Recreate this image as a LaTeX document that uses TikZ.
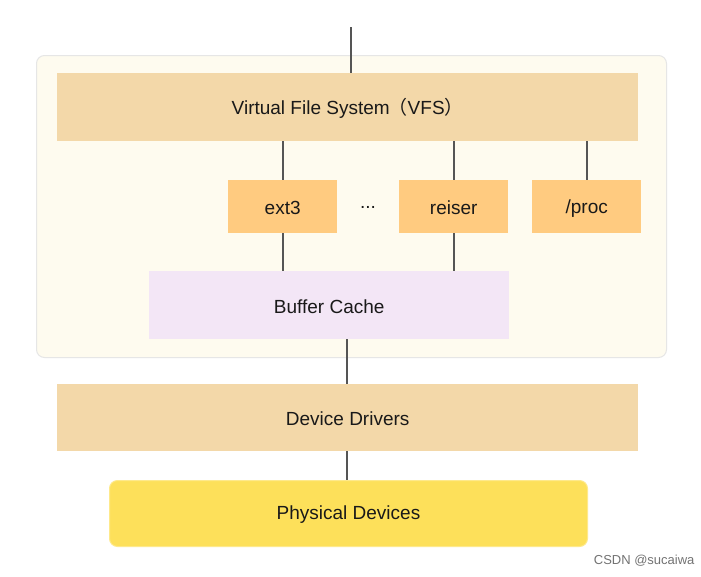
\documentclass[tikz,border=0pt]{standalone}
\usepackage{fontspec}
\setmainfont{Liberation Sans}
\newfontfamily\cjk{Noto Sans CJK SC}
\definecolor{tan}{HTML}{F3D8A9}
\definecolor{orng}{HTML}{FFCB80}
\definecolor{lav}{HTML}{F3E6F6}
\definecolor{yel}{HTML}{FDE05A}
\definecolor{cont}{HTML}{FEFBEF}
\definecolor{contb}{HTML}{E6E6E6}
\definecolor{ln}{HTML}{555555}
\begin{document}
\begin{tikzpicture}[x=1pt,y=-1pt,
  every node/.style={font=\fontsize{19}{22}\selectfont, text=black!90},
  lbl/.style={yshift=-1.5pt},
  blk/.style={draw=none, inner sep=0pt, anchor=north west},
  conn/.style={draw=ln, line width=1.5pt}]
\useasboundingbox (0,0) rectangle (701,576);
\fill[white] (0,0) rectangle (701,576);
% container
\node[blk, fill=cont, draw=contb, line width=1pt, rounded corners=8pt, minimum width=630pt, minimum height=302pt] (cont) at (36,55) {};
\node[blk, fill=tan, minimum width=581pt, minimum height=68pt] (vfs) at (57,73) {};
\node[lbl] at (vfs.center) {Virtual File System{\cjk\kern-1pt （}VFS{\cjk ）}};
\coordinate (top) at (351,27);
\node[blk, fill=orng, minimum width=109pt, minimum height=53pt] (ext) at (228,180) {};
\node[lbl] at (ext.center) {ext3};
\node[lbl] (dots) at (368,206) {...};
\node[blk, fill=orng, minimum width=109pt, minimum height=53pt] (rei) at (399,180) {};
\node[lbl] at (rei.center) {reiser};
\node[blk, fill=orng, minimum width=109pt, minimum height=53pt] (proc) at (532,180) {};
\node[lbl] at (proc.center) {/proc};
\node[blk, fill=lav, minimum width=360pt, minimum height=68pt] (buf) at (149,271) {};
\node[lbl] at (buf.center) {Buffer Cache};
\node[blk, fill=tan, minimum width=581pt, minimum height=67pt] (dd) at (57,384) {};
\node[lbl] at (dd.center) {Device Drivers};
\node[blk, fill=yel, draw=yel!70!white, line width=1pt, rounded corners=8pt, minimum width=478pt, minimum height=66pt] (pd) at (109,480) {};
\node[lbl] at (pd.center) {Physical Devices};
\node[font=\fontsize{13}{15}\selectfont, text=black!55, anchor=east] (wm) at (698,561) {CSDN @sucaiwa};
% connectors
\draw[conn] (top) -- (vfs.north -| top);
\draw[conn] (vfs.south -| 283,0) -- (ext.north -| 283,0);
\draw[conn] (vfs.south -| 454,0) -- (rei.north -| 454,0);
\draw[conn] (vfs.south -| 587,0) -- (proc.north -| 587,0);
\draw[conn] (ext.south -| 283,0) -- (buf.north -| 283,0);
\draw[conn] (rei.south -| 454,0) -- (buf.north -| 454,0);
\draw[conn] (buf.south -| 347,0) -- (dd.north -| 347,0);
\draw[conn] (dd.south -| 347,0) -- (pd.north -| 347,0);
\end{tikzpicture}
\end{document}
